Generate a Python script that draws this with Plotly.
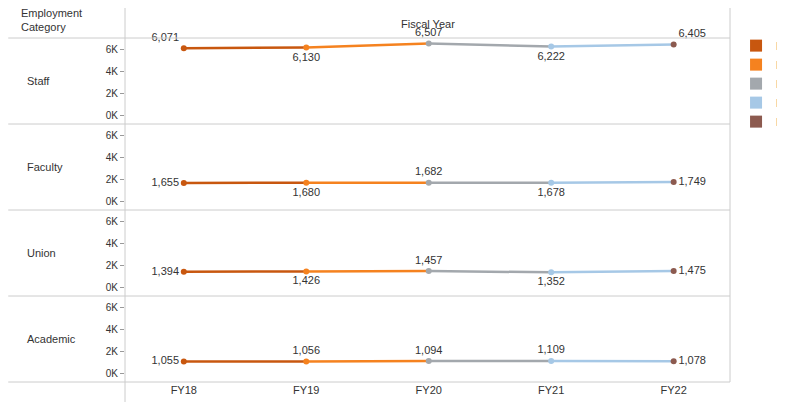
import plotly.graph_objects as go
from plotly.subplots import make_subplots

years = ["FY18", "FY19", "FY20", "FY21", "FY22"]
categories = ["Staff", "Faculty", "Union", "Academic"]
staff = [6071, 6130, 6507, 6222, 6405]
faculty = [1655, 1680, 1682, 1678, 1749]
union = [1394, 1426, 1457, 1352, 1475]
academic = [1055, 1056, 1094, 1109, 1078]
values = [staff, faculty, union, academic]
colors = ["#c8570f", "#f5821f", "#a3a8ad", "#a6c8e6", "#8c5a4f"]
positions = [
    ["middle left", "bottom center", "top center", "bottom center", "top right"],
    ["middle left", "bottom center", "top center", "bottom center", "middle right"],
    ["middle left", "bottom center", "top center", "bottom center", "middle right"],
    ["middle left", "top center", "top center", "top center", "middle right"],
]
positions[0][0] = "top left"

FONT = "Arial, Liberation Sans, sans-serif"
fig = make_subplots(rows=4, cols=1, shared_xaxes=True, vertical_spacing=0)
for r, vals in enumerate(values, start=1):
    for i in range(len(years) - 1):
        fig.add_trace(go.Scatter(x=[years[i], years[i + 1]], y=[vals[i], vals[i + 1]],
                                 mode="lines", line=dict(color=colors[i], width=2.5),
                                 showlegend=False, hoverinfo="skip"), row=r, col=1)
    fig.add_trace(go.Scatter(x=years, y=vals, mode="markers+text", cliponaxis=False,
                             marker=dict(color=colors, size=6),
                             text=[f"{v:,}" for v in vals], textposition=positions[r - 1],
                             textfont=dict(size=11, color="#333"),
                             showlegend=False), row=r, col=1)
    fig.update_yaxes(range=[-800, 7000], tickvals=[0, 2000, 4000, 6000],
                     ticktext=["0K", "2K", "4K", "6K"], showgrid=False, zeroline=False,
                     ticks="outside", ticklen=4, tickcolor="#999",
                     tickfont=dict(size=10, color="#333"), row=r, col=1)
    fig.add_annotation(text=categories[r - 1], xref="paper", yref=f"y{'' if r == 1 else r} domain",
                       x=-0.165, y=0.5, xanchor="left", showarrow=False,
                       font=dict(size=11, color="#333"))

for i, y in enumerate(years):
    fig.add_trace(go.Scatter(x=[None], y=[None], mode="markers", name=y,
                             marker=dict(symbol="square", size=15, color=colors[i])))

fig.update_xaxes(range=[-0.48, 4.46], showgrid=False, showline=False, ticks="",
                 tickfont=dict(size=11, color="#333"))

shapes = []
for yv in [0, 0.25, 0.5, 0.75, 1.0]:
    shapes.append(dict(type="line", xref="paper", yref="paper", x0=-0.193, x1=1, y0=yv, y1=yv,
                       line=dict(color="#ccc", width=1)))
shapes.append(dict(type="line", xref="paper", yref="paper", x0=0, x1=0, y0=-0.08, y1=1.09,
                   line=dict(color="#ccc", width=1)))
shapes.append(dict(type="line", xref="paper", yref="paper", x0=1, x1=1, y0=0, y1=1.09,
                   line=dict(color="#ccc", width=1)))
fig.update_layout(shapes=shapes)

fig.add_annotation(text="Fiscal Year", xref="paper", yref="paper", x=0.5, y=1.065,
                   showarrow=False, font=dict(size=11, color="#333"))
fig.add_annotation(text="Employment<br>Category", xref="paper", yref="paper", x=-0.175, y=1.095,
                   xanchor="left", yanchor="top", align="left", showarrow=False,
                   font=dict(size=11, color="#333"))

fig.update_layout(width=785, height=402,
                  margin=dict(l=117, r=63, t=30, b=28, autoexpand=False),
                  plot_bgcolor="white", paper_bgcolor="white",
                  font=dict(family=FONT, size=11, color="#333"),
                  legend=dict(x=1.01, y=1.02, xanchor="left", yanchor="top",
                              font=dict(size=11), itemsizing="constant",
                              tracegroupgap=0))
fig.write_html("out.html")
